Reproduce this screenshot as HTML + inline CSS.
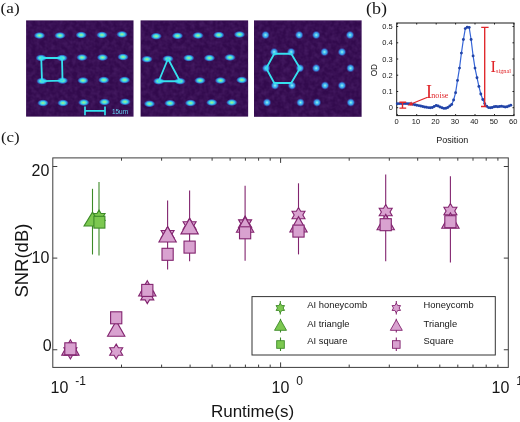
<!DOCTYPE html>
<html><head><meta charset="utf-8"><title>Figure</title>
<style>
html,body{margin:0;padding:0;background:#fff;}
body{width:520px;height:422px;overflow:hidden;}
svg{display:block}
.sans{font-family:"Liberation Sans",Arial,sans-serif;fill:#151515}
.serif{font-family:"Liberation Serif","Times New Roman",serif;fill:#151515}
.red{font-family:"Liberation Serif","Times New Roman",serif;fill:#e0262a}
</style></head><body>
<svg width="520" height="422" viewBox="0 0 520 422">
<defs>
<radialGradient id="sp">
<stop offset="0" stop-color="#a8f08a"/>
<stop offset="0.25" stop-color="#6fe8b8"/>
<stop offset="0.48" stop-color="#36cdea"/>
<stop offset="0.72" stop-color="#2f86e0" stop-opacity="0.8"/>
<stop offset="1" stop-color="#3a3aa8" stop-opacity="0"/>
</radialGradient>
<radialGradient id="sp3">
<stop offset="0" stop-color="#a8f0e8"/>
<stop offset="0.3" stop-color="#4cc8f2"/>
<stop offset="0.6" stop-color="#3596ee" stop-opacity="0.9"/>
<stop offset="1" stop-color="#3a3aa8" stop-opacity="0"/>
</radialGradient>
<filter id="bl" x="-10%" y="-10%" width="120%" height="120%"><feGaussianBlur stdDeviation="0.5"/></filter>
<filter id="noise" x="0" y="0" width="100%" height="100%">
<feTurbulence type="fractalNoise" baseFrequency="0.22" numOctaves="2" seed="3"/>
<feColorMatrix type="matrix" values="0 0 0 0 0.32  0 0 0 0 0.14  0 0 0 0 0.52  1.0 0 0 0 -0.3"/>
</filter>
</defs>
<rect width="520" height="422" fill="#fff"/>

<text class="serif" x="0.6" y="12.6" font-size="15.3" textLength="19" lengthAdjust="spacingAndGlyphs">(a)</text>
<rect x="26.1" y="20.4" width="107.4" height="96.2" fill="#320a4d"/>
<rect x="26.1" y="20.4" width="107.4" height="96.2" filter="url(#noise)" opacity="0.3"/>
<rect x="140.6" y="20.4" width="107.5" height="96.2" fill="#320a4d"/>
<rect x="140.6" y="20.4" width="107.5" height="96.2" filter="url(#noise)" opacity="0.3"/>
<rect x="254" y="20.4" width="107.6" height="96.4" fill="#320a4d"/>
<rect x="254" y="20.4" width="107.6" height="96.4" filter="url(#noise)" opacity="0.3"/>
<g filter="url(#bl)">
<ellipse cx="39.5" cy="35.5" rx="5.9" ry="3.7" fill="url(#sp)"/>
<ellipse cx="60.0" cy="35.5" rx="5.9" ry="3.7" fill="url(#sp)"/>
<ellipse cx="81.2" cy="35.0" rx="5.9" ry="3.7" fill="url(#sp)"/>
<ellipse cx="102.0" cy="35.0" rx="5.9" ry="3.7" fill="url(#sp)"/>
<ellipse cx="122.0" cy="34.4" rx="5.9" ry="3.7" fill="url(#sp)"/>
<ellipse cx="41.2" cy="58.0" rx="5.9" ry="3.7" fill="url(#sp)"/>
<ellipse cx="62.0" cy="58.0" rx="5.9" ry="3.7" fill="url(#sp)"/>
<ellipse cx="82.0" cy="57.5" rx="5.9" ry="3.7" fill="url(#sp)"/>
<ellipse cx="102.5" cy="57.5" rx="5.9" ry="3.7" fill="url(#sp)"/>
<ellipse cx="123.0" cy="57.0" rx="5.9" ry="3.7" fill="url(#sp)"/>
<ellipse cx="42.0" cy="81.1" rx="5.9" ry="3.7" fill="url(#sp)"/>
<ellipse cx="62.5" cy="80.6" rx="5.9" ry="3.7" fill="url(#sp)"/>
<ellipse cx="83.0" cy="80.5" rx="5.9" ry="3.7" fill="url(#sp)"/>
<ellipse cx="103.8" cy="80.0" rx="5.9" ry="3.7" fill="url(#sp)"/>
<ellipse cx="124.5" cy="80.0" rx="5.9" ry="3.7" fill="url(#sp)"/>
<ellipse cx="43.0" cy="103.0" rx="5.9" ry="3.7" fill="url(#sp)"/>
<ellipse cx="63.0" cy="103.0" rx="5.9" ry="3.7" fill="url(#sp)"/>
<ellipse cx="83.8" cy="102.5" rx="5.9" ry="3.7" fill="url(#sp)"/>
<ellipse cx="104.5" cy="102.0" rx="5.9" ry="3.7" fill="url(#sp)"/>
<ellipse cx="125.0" cy="101.8" rx="5.9" ry="3.7" fill="url(#sp)"/>
<ellipse cx="156.2" cy="36.2" rx="5.9" ry="3.7" fill="url(#sp)"/>
<ellipse cx="177.5" cy="35.8" rx="5.9" ry="3.7" fill="url(#sp)"/>
<ellipse cx="198.0" cy="35.5" rx="5.9" ry="3.7" fill="url(#sp)"/>
<ellipse cx="218.8" cy="35.0" rx="5.9" ry="3.7" fill="url(#sp)"/>
<ellipse cx="239.5" cy="34.5" rx="5.9" ry="3.7" fill="url(#sp)"/>
<ellipse cx="147.0" cy="59.2" rx="5.9" ry="3.7" fill="url(#sp)"/>
<ellipse cx="168.0" cy="58.8" rx="5.9" ry="3.7" fill="url(#sp)"/>
<ellipse cx="188.8" cy="58.0" rx="5.9" ry="3.7" fill="url(#sp)"/>
<ellipse cx="209.5" cy="58.0" rx="5.9" ry="3.7" fill="url(#sp)"/>
<ellipse cx="230.0" cy="57.5" rx="5.9" ry="3.7" fill="url(#sp)"/>
<ellipse cx="158.8" cy="81.2" rx="5.9" ry="3.7" fill="url(#sp)"/>
<ellipse cx="180.0" cy="81.2" rx="5.9" ry="3.7" fill="url(#sp)"/>
<ellipse cx="200.0" cy="80.5" rx="5.9" ry="3.7" fill="url(#sp)"/>
<ellipse cx="220.5" cy="80.5" rx="5.9" ry="3.7" fill="url(#sp)"/>
<ellipse cx="241.8" cy="80.0" rx="5.9" ry="3.7" fill="url(#sp)"/>
<ellipse cx="149.5" cy="103.8" rx="5.9" ry="3.7" fill="url(#sp)"/>
<ellipse cx="170.0" cy="103.2" rx="5.9" ry="3.7" fill="url(#sp)"/>
<ellipse cx="190.5" cy="103.0" rx="5.9" ry="3.7" fill="url(#sp)"/>
<ellipse cx="211.8" cy="102.5" rx="5.9" ry="3.7" fill="url(#sp)"/>
<ellipse cx="231.8" cy="102.5" rx="5.9" ry="3.7" fill="url(#sp)"/>
<ellipse cx="265.5" cy="35.0" rx="4.4" ry="4.4" fill="url(#sp3)"/>
<ellipse cx="299.2" cy="35.0" rx="4.4" ry="4.4" fill="url(#sp3)"/>
<ellipse cx="316.2" cy="35.0" rx="4.4" ry="4.4" fill="url(#sp3)"/>
<ellipse cx="350.0" cy="35.0" rx="4.4" ry="4.4" fill="url(#sp3)"/>
<ellipse cx="274.2" cy="52.0" rx="4.4" ry="4.4" fill="url(#sp3)"/>
<ellipse cx="291.2" cy="52.0" rx="4.4" ry="4.4" fill="url(#sp3)"/>
<ellipse cx="324.5" cy="52.0" rx="4.4" ry="4.4" fill="url(#sp3)"/>
<ellipse cx="342.0" cy="52.0" rx="4.4" ry="4.4" fill="url(#sp3)"/>
<ellipse cx="266.2" cy="68.2" rx="4.4" ry="4.4" fill="url(#sp3)"/>
<ellipse cx="300.0" cy="68.2" rx="4.4" ry="4.4" fill="url(#sp3)"/>
<ellipse cx="316.2" cy="68.2" rx="4.4" ry="4.4" fill="url(#sp3)"/>
<ellipse cx="350.5" cy="68.2" rx="4.4" ry="4.4" fill="url(#sp3)"/>
<ellipse cx="275.0" cy="85.5" rx="4.4" ry="4.4" fill="url(#sp3)"/>
<ellipse cx="292.0" cy="85.5" rx="4.4" ry="4.4" fill="url(#sp3)"/>
<ellipse cx="325.0" cy="85.5" rx="4.4" ry="4.4" fill="url(#sp3)"/>
<ellipse cx="342.0" cy="85.5" rx="4.4" ry="4.4" fill="url(#sp3)"/>
<ellipse cx="267.0" cy="102.5" rx="4.4" ry="4.4" fill="url(#sp3)"/>
<ellipse cx="300.5" cy="102.5" rx="4.4" ry="4.4" fill="url(#sp3)"/>
<ellipse cx="317.0" cy="102.5" rx="4.4" ry="4.4" fill="url(#sp3)"/>
<ellipse cx="350.8" cy="102.5" rx="4.4" ry="4.4" fill="url(#sp3)"/>
</g>
<path d="M41.25 58 L62 58 L62.5 80.6 L42 81.1 Z" fill="none" stroke="#35e0ee" stroke-width="1.8" stroke-linejoin="round"/>
<path d="M168 58.75 L158.75 81.25 L180 81.25 Z" fill="none" stroke="#35e0ee" stroke-width="1.8" stroke-linejoin="round"/>
<path d="M274.25 53.75 L291.25 53.75 L300 68.25 L291.25 83 L274.25 83 L266.25 68.25 Z" fill="none" stroke="#35e0ee" stroke-width="1.8" stroke-linejoin="round"/>
<path d="M85 110.8 H105 M85 106.5 V115.3 M105 106.5 V115.3" fill="none" stroke="#35e0ee" stroke-width="1.7"/>
<text x="111.9" y="114" font-size="6.8" textLength="16.2" lengthAdjust="spacingAndGlyphs" font-family="Liberation Sans,Arial,sans-serif" fill="#66d2f2">15um</text>
<text class="serif" x="366" y="13.9" font-size="16" textLength="21" lengthAdjust="spacingAndGlyphs">(b)</text>
<rect x="396.7" y="23" width="117.3" height="92.6" fill="#fff" stroke="#1a1a1a" stroke-width="1"/>
<text class="sans" x="396.6" y="124.2" font-size="7.5" text-anchor="middle">0</text>
<text class="sans" x="416.0" y="124.2" font-size="7.5" text-anchor="middle">10</text>
<text class="sans" x="435.5" y="124.2" font-size="7.5" text-anchor="middle">20</text>
<text class="sans" x="454.9" y="124.2" font-size="7.5" text-anchor="middle">30</text>
<text class="sans" x="474.3" y="124.2" font-size="7.5" text-anchor="middle">40</text>
<text class="sans" x="493.8" y="124.2" font-size="7.5" text-anchor="middle">50</text>
<text class="sans" x="513.2" y="124.2" font-size="7.5" text-anchor="middle">60</text>
<text class="sans" x="392.8" y="110.3" font-size="7.5" text-anchor="end">0</text>
<text class="sans" x="392.8" y="94.1" font-size="7.5" text-anchor="end">0.1</text>
<text class="sans" x="392.8" y="77.8" font-size="7.5" text-anchor="end">0.2</text>
<text class="sans" x="392.8" y="61.6" font-size="7.5" text-anchor="end">0.3</text>
<text class="sans" x="392.8" y="45.4" font-size="7.5" text-anchor="end">0.4</text>
<text class="sans" x="392.8" y="29.1" font-size="7.5" text-anchor="end">0.5</text>
<path d="M397.3 115.6 v-1.5 M397.3 23 v1.5 M416.7 115.6 v-1.5 M416.7 23 v1.5 M436.2 115.6 v-1.5 M436.2 23 v1.5 M455.6 115.6 v-1.5 M455.6 23 v1.5 M475.0 115.6 v-1.5 M475.0 23 v1.5 M494.5 115.6 v-1.5 M494.5 23 v1.5 M513.9 115.6 v-1.5 M513.9 23 v1.5 M396.7 107.7 h1.5 M514 107.7 h-1.5 M396.7 91.5 h1.5 M514 91.5 h-1.5 M396.7 75.2 h1.5 M514 75.2 h-1.5 M396.7 59.0 h1.5 M514 59.0 h-1.5 M396.7 42.8 h1.5 M514 42.8 h-1.5 M396.7 26.5 h1.5 M514 26.5 h-1.5" stroke="#1a1a1a" stroke-width="1" fill="none"/>
<text class="sans" font-size="8.2" text-anchor="middle" transform="translate(376.9 70.2) rotate(-90)">OD</text>
<text class="sans" font-size="9" text-anchor="middle" x="452.2" y="142.6">Position</text>
<polyline points="397.3,103.8 399.2,103.6 401.2,103.5 403.1,103.6 405.1,103.5 407.0,103.6 409.0,103.8 410.9,104.0 412.8,104.3 414.8,104.8 416.7,105.2 418.7,105.6 420.6,106.0 422.6,106.5 424.5,107.0 426.4,107.3 428.4,107.6 430.3,107.7 432.3,107.5 434.2,106.5 436.2,105.5 438.1,106.0 440.0,107.0 442.0,107.8 443.9,108.4 445.9,108.2 447.8,107.5 449.8,106.0 451.7,104.5 453.6,100.0 455.6,92.7 457.5,80.4 459.5,68.1 461.4,53.1 463.4,39.5 465.3,28.6 467.2,27.3 469.2,27.5 471.1,39.5 473.1,55.9 475.0,68.1 477.0,77.7 478.9,86.4 480.8,94.0 482.8,99.5 484.7,103.6 486.7,106.3 488.5,107.6 490.4,107.8 492.2,107.5 494.1,106.8 495.9,106.5 497.8,106.7 499.7,106.5 501.5,106.3 503.4,106.6 505.2,107.0 507.1,106.8 508.9,106.0 510.8,105.2" fill="none" stroke="#3565d8" stroke-width="1.2" stroke-linejoin="round"/>
<circle cx="397.3" cy="103.8" r="1.45" fill="#2244a8"/>
<circle cx="399.2" cy="103.6" r="1.45" fill="#2244a8"/>
<circle cx="401.2" cy="103.5" r="1.45" fill="#2244a8"/>
<circle cx="403.1" cy="103.6" r="1.45" fill="#2244a8"/>
<circle cx="405.1" cy="103.5" r="1.45" fill="#2244a8"/>
<circle cx="407.0" cy="103.6" r="1.45" fill="#2244a8"/>
<circle cx="409.0" cy="103.8" r="1.45" fill="#2244a8"/>
<circle cx="410.9" cy="104.0" r="1.45" fill="#2244a8"/>
<circle cx="412.8" cy="104.3" r="1.45" fill="#2244a8"/>
<circle cx="414.8" cy="104.8" r="1.45" fill="#2244a8"/>
<circle cx="416.7" cy="105.2" r="1.45" fill="#2244a8"/>
<circle cx="418.7" cy="105.6" r="1.45" fill="#2244a8"/>
<circle cx="420.6" cy="106.0" r="1.45" fill="#2244a8"/>
<circle cx="422.6" cy="106.5" r="1.45" fill="#2244a8"/>
<circle cx="424.5" cy="107.0" r="1.45" fill="#2244a8"/>
<circle cx="426.4" cy="107.3" r="1.45" fill="#2244a8"/>
<circle cx="428.4" cy="107.6" r="1.45" fill="#2244a8"/>
<circle cx="430.3" cy="107.7" r="1.45" fill="#2244a8"/>
<circle cx="432.3" cy="107.5" r="1.45" fill="#2244a8"/>
<circle cx="434.2" cy="106.5" r="1.45" fill="#2244a8"/>
<circle cx="436.2" cy="105.5" r="1.45" fill="#2244a8"/>
<circle cx="438.1" cy="106.0" r="1.45" fill="#2244a8"/>
<circle cx="440.0" cy="107.0" r="1.45" fill="#2244a8"/>
<circle cx="442.0" cy="107.8" r="1.45" fill="#2244a8"/>
<circle cx="443.9" cy="108.4" r="1.45" fill="#2244a8"/>
<circle cx="445.9" cy="108.2" r="1.45" fill="#2244a8"/>
<circle cx="447.8" cy="107.5" r="1.45" fill="#2244a8"/>
<circle cx="449.8" cy="106.0" r="1.45" fill="#2244a8"/>
<circle cx="451.7" cy="104.5" r="1.45" fill="#2244a8"/>
<circle cx="453.6" cy="100.0" r="1.45" fill="#2244a8"/>
<circle cx="455.6" cy="92.7" r="1.45" fill="#2244a8"/>
<circle cx="457.5" cy="80.4" r="1.45" fill="#2244a8"/>
<circle cx="459.5" cy="68.1" r="1.45" fill="#2244a8"/>
<circle cx="461.4" cy="53.1" r="1.45" fill="#2244a8"/>
<circle cx="463.4" cy="39.5" r="1.45" fill="#2244a8"/>
<circle cx="465.3" cy="28.6" r="1.45" fill="#2244a8"/>
<circle cx="467.2" cy="27.3" r="1.45" fill="#2244a8"/>
<circle cx="469.2" cy="27.5" r="1.45" fill="#2244a8"/>
<circle cx="471.1" cy="39.5" r="1.45" fill="#2244a8"/>
<circle cx="473.1" cy="55.9" r="1.45" fill="#2244a8"/>
<circle cx="475.0" cy="68.1" r="1.45" fill="#2244a8"/>
<circle cx="477.0" cy="77.7" r="1.45" fill="#2244a8"/>
<circle cx="478.9" cy="86.4" r="1.45" fill="#2244a8"/>
<circle cx="480.8" cy="94.0" r="1.45" fill="#2244a8"/>
<circle cx="482.8" cy="99.5" r="1.45" fill="#2244a8"/>
<circle cx="484.7" cy="103.6" r="1.45" fill="#2244a8"/>
<circle cx="486.7" cy="106.3" r="1.45" fill="#2244a8"/>
<circle cx="488.5" cy="107.6" r="1.45" fill="#2244a8"/>
<circle cx="490.4" cy="107.8" r="1.45" fill="#2244a8"/>
<circle cx="492.2" cy="107.5" r="1.45" fill="#2244a8"/>
<circle cx="494.1" cy="106.8" r="1.45" fill="#2244a8"/>
<circle cx="495.9" cy="106.5" r="1.45" fill="#2244a8"/>
<circle cx="497.8" cy="106.7" r="1.45" fill="#2244a8"/>
<circle cx="499.7" cy="106.5" r="1.45" fill="#2244a8"/>
<circle cx="501.5" cy="106.3" r="1.45" fill="#2244a8"/>
<circle cx="503.4" cy="106.6" r="1.45" fill="#2244a8"/>
<circle cx="505.2" cy="107.0" r="1.45" fill="#2244a8"/>
<circle cx="507.1" cy="106.8" r="1.45" fill="#2244a8"/>
<circle cx="508.9" cy="106.0" r="1.45" fill="#2244a8"/>
<circle cx="510.8" cy="105.2" r="1.45" fill="#2244a8"/>
<path d="M402.5 102.3 V108.1 M399.4 102.3 H406.2 M399.4 108.1 H406.2" stroke="#e0262a" stroke-width="1.4" fill="none"/>
<path d="M484.7 27.3 V106.5 M481.2 27.3 H488.6 M481 106.5 H486.3" stroke="#e0262a" stroke-width="1.35" fill="none"/>
<path d="M427.5 97.3 L411 104" stroke="#e0262a" stroke-width="1.2" fill="none"/>
<path d="M407.5 105.6 L411.3 101.6 L413 105.4 Z" fill="#e0262a"/>
<text class="red" x="426.1" y="97.8" font-size="18">I<tspan font-size="8.1" dx="-0.8" dy="0.2">noise</tspan></text>
<text class="red" x="490.6" y="72.2" font-size="16.5">I<tspan font-size="6.2" dy="0.3">signal</tspan></text>
<text class="serif" x="0.9" y="142.2" font-size="15.3" textLength="18.7" lengthAdjust="spacingAndGlyphs">(c)</text>
<rect x="52.8" y="157.9" width="455.5" height="209.5" fill="#fff" stroke="#3c3c3c" stroke-width="1"/>
<path d="M121.5 367.4 v-2.8 M121.5 157.9 v2.8 M161.6 367.4 v-2.8 M161.6 157.9 v2.8 M190.1 367.4 v-2.8 M190.1 157.9 v2.8 M212.1 367.4 v-2.8 M212.1 157.9 v2.8 M230.1 367.4 v-2.8 M230.1 157.9 v2.8 M245.4 367.4 v-2.8 M245.4 157.9 v2.8 M258.6 367.4 v-2.8 M258.6 157.9 v2.8 M270.2 367.4 v-2.8 M270.2 157.9 v2.8 M280.6 367.4 v-5 M280.6 157.9 v5 M349.2 367.4 v-2.8 M349.2 157.9 v2.8 M389.3 367.4 v-2.8 M389.3 157.9 v2.8 M417.7 367.4 v-2.8 M417.7 157.9 v2.8 M439.8 367.4 v-2.8 M439.8 157.9 v2.8 M457.8 367.4 v-2.8 M457.8 157.9 v2.8 M473.0 367.4 v-2.8 M473.0 157.9 v2.8 M486.2 367.4 v-2.8 M486.2 157.9 v2.8 M497.9 367.4 v-2.8 M497.9 157.9 v2.8 M52.8 349.75 h4.5 M508.3 349.75 h-4.5 M52.8 258.1 h4.5 M508.3 258.1 h-4.5 M52.8 166.5 h4.5 M508.3 166.5 h-4.5" stroke="#3c3c3c" stroke-width="1" fill="none"/>
<text class="sans" x="49.3" y="175.6" font-size="16" text-anchor="end">20</text>
<text class="sans" x="49.3" y="263.1" font-size="16" text-anchor="end">10</text>
<text class="sans" x="51.6" y="351.3" font-size="16" text-anchor="end">0</text>
<text class="sans" font-size="18.5" text-anchor="middle" transform="translate(28.1 260.6) rotate(-90)">SNR(dB)</text>
<text class="sans" font-size="17" text-anchor="middle" x="252.5" y="417">Runtime(s)</text>
<text class="sans" x="50.5" y="393" font-size="16">10<tspan font-size="12" dx="7" dy="-8.3">-1</tspan></text>
<text class="sans" x="271.5" y="393" font-size="16">10<tspan font-size="12" dx="7" dy="-8.3">0</tspan></text>
<text class="sans" x="491.5" y="393" font-size="16">10<tspan font-size="12" dx="7" dy="-8.3">1</tspan></text>
<path d="M92.5 188.8 V254.5" stroke="#3d8a28" stroke-width="1.1" fill="none"/>
<path d="M99 182 V255.5" stroke="#3d8a28" stroke-width="1.1" fill="none"/>
<polygon points="99.00,210.00 101.02,213.50 105.06,213.50 103.04,217.00 105.06,220.50 101.02,220.50 99.00,224.00 96.98,220.50 92.94,220.50 94.96,217.00 92.94,213.50 96.98,213.50" fill="#7cc850" stroke="#3d8a28" stroke-width="1.1" stroke-linejoin="miter"/>
<polygon points="92.50,212.10 100.96,226.05 84.04,226.05" fill="#7cc850" stroke="#3d8a28" stroke-width="1.1" stroke-linejoin="miter"/>
<rect x="93.90" y="216.30" width="11.0" height="11.8" fill="#7cc850" stroke="#3d8a28" stroke-width="1.1"/>
<polygon points="70.40,344.00 72.57,347.75 76.90,347.75 74.73,351.50 76.90,355.25 72.57,355.25 70.40,359.00 68.23,355.25 63.90,355.25 66.07,351.50 63.90,347.75 68.23,347.75" fill="#d9a2d0" stroke="#82246f" stroke-width="1.1" stroke-linejoin="miter"/>
<polygon points="70.40,339.83 79.08,355.16 61.72,355.16" fill="#d9a2d0" stroke="#82246f" stroke-width="1.1" stroke-linejoin="miter"/>
<rect x="64.80" y="342.80" width="11.2" height="12.0" fill="#d9a2d0" stroke="#82246f" stroke-width="1.1"/>
<polygon points="116.20,344.00 118.37,347.75 122.70,347.75 120.53,351.50 122.70,355.25 118.37,355.25 116.20,359.00 114.03,355.25 109.70,355.25 111.87,351.50 109.70,347.75 114.03,347.75" fill="#d9a2d0" stroke="#82246f" stroke-width="1.1" stroke-linejoin="miter"/>
<polygon points="116.20,320.88 124.88,336.21 107.52,336.21" fill="#d9a2d0" stroke="#82246f" stroke-width="1.1" stroke-linejoin="miter"/>
<rect x="110.60" y="311.80" width="11.2" height="12.0" fill="#d9a2d0" stroke="#82246f" stroke-width="1.1"/>
<polygon points="147.30,288.60 149.47,292.35 153.80,292.35 151.63,296.10 153.80,299.85 149.47,299.85 147.30,303.60 145.13,299.85 140.80,299.85 142.97,296.10 140.80,292.35 145.13,292.35" fill="#d9a2d0" stroke="#82246f" stroke-width="1.1" stroke-linejoin="miter"/>
<polygon points="147.30,280.73 155.98,296.06 138.62,296.06" fill="#d9a2d0" stroke="#82246f" stroke-width="1.1" stroke-linejoin="miter"/>
<rect x="141.70" y="284.40" width="11.2" height="12.0" fill="#d9a2d0" stroke="#82246f" stroke-width="1.1"/>
<path d="M167.6 200.6 V269.4" stroke="#82246f" stroke-width="1.1" fill="none"/>
<polygon points="167.60,226.80 169.77,230.55 174.10,230.55 171.93,234.30 174.10,238.05 169.77,238.05 167.60,241.80 165.43,238.05 161.10,238.05 163.27,234.30 161.10,230.55 165.43,230.55" fill="#d9a2d0" stroke="#82246f" stroke-width="1.1" stroke-linejoin="miter"/>
<polygon points="167.60,226.63 176.28,241.96 158.92,241.96" fill="#d9a2d0" stroke="#82246f" stroke-width="1.1" stroke-linejoin="miter"/>
<rect x="162.00" y="248.30" width="11.2" height="12.0" fill="#d9a2d0" stroke="#82246f" stroke-width="1.1"/>
<path d="M189.6 190.6 V261.3" stroke="#82246f" stroke-width="1.1" fill="none"/>
<polygon points="189.60,218.00 191.77,221.75 196.10,221.75 193.93,225.50 196.10,229.25 191.77,229.25 189.60,233.00 187.43,229.25 183.10,229.25 185.27,225.50 183.10,221.75 187.43,221.75" fill="#d9a2d0" stroke="#82246f" stroke-width="1.1" stroke-linejoin="miter"/>
<polygon points="189.60,218.53 198.28,233.86 180.92,233.86" fill="#d9a2d0" stroke="#82246f" stroke-width="1.1" stroke-linejoin="miter"/>
<rect x="184.00" y="241.10" width="11.2" height="12.0" fill="#d9a2d0" stroke="#82246f" stroke-width="1.1"/>
<path d="M245.1 185.7 V260.8" stroke="#82246f" stroke-width="1.1" fill="none"/>
<polygon points="245.10,216.10 247.27,219.85 251.60,219.85 249.43,223.60 251.60,227.35 247.27,227.35 245.10,231.10 242.93,227.35 238.60,227.35 240.77,223.60 238.60,219.85 242.93,219.85" fill="#d9a2d0" stroke="#82246f" stroke-width="1.1" stroke-linejoin="miter"/>
<polygon points="245.10,216.88 253.78,232.21 236.42,232.21" fill="#d9a2d0" stroke="#82246f" stroke-width="1.1" stroke-linejoin="miter"/>
<rect x="239.50" y="226.80" width="11.2" height="12.0" fill="#d9a2d0" stroke="#82246f" stroke-width="1.1"/>
<path d="M298.5 183.3 V254.4" stroke="#82246f" stroke-width="1.1" fill="none"/>
<polygon points="298.50,207.50 300.67,211.25 305.00,211.25 302.83,215.00 305.00,218.75 300.67,218.75 298.50,222.50 296.33,218.75 292.00,218.75 294.17,215.00 292.00,211.25 296.33,211.25" fill="#d9a2d0" stroke="#82246f" stroke-width="1.1" stroke-linejoin="miter"/>
<polygon points="298.50,216.63 307.18,231.96 289.82,231.96" fill="#d9a2d0" stroke="#82246f" stroke-width="1.1" stroke-linejoin="miter"/>
<rect x="292.90" y="225.10" width="11.2" height="12.0" fill="#d9a2d0" stroke="#82246f" stroke-width="1.1"/>
<path d="M385.7 174.5 V261.3" stroke="#82246f" stroke-width="1.1" fill="none"/>
<polygon points="385.70,204.50 387.87,208.25 392.20,208.25 390.03,212.00 392.20,215.75 387.87,215.75 385.70,219.50 383.53,215.75 379.20,215.75 381.37,212.00 379.20,208.25 383.53,208.25" fill="#d9a2d0" stroke="#82246f" stroke-width="1.1" stroke-linejoin="miter"/>
<polygon points="385.70,214.38 394.38,229.71 377.02,229.71" fill="#d9a2d0" stroke="#82246f" stroke-width="1.1" stroke-linejoin="miter"/>
<rect x="380.10" y="218.70" width="11.2" height="12.0" fill="#d9a2d0" stroke="#82246f" stroke-width="1.1"/>
<path d="M450.4 176.3 V262.5" stroke="#82246f" stroke-width="1.1" fill="none"/>
<polygon points="450.40,203.50 452.57,207.25 456.90,207.25 454.73,211.00 456.90,214.75 452.57,214.75 450.40,218.50 448.23,214.75 443.90,214.75 446.07,211.00 443.90,207.25 448.23,207.25" fill="#d9a2d0" stroke="#82246f" stroke-width="1.1" stroke-linejoin="miter"/>
<polygon points="450.40,212.88 459.08,228.21 441.72,228.21" fill="#d9a2d0" stroke="#82246f" stroke-width="1.1" stroke-linejoin="miter"/>
<rect x="444.80" y="215.70" width="11.2" height="12.0" fill="#d9a2d0" stroke="#82246f" stroke-width="1.1"/>
<rect x="252" y="296.6" width="243.3" height="58.4" fill="#fff" stroke="#333" stroke-width="1"/>
<path d="M280.3 301 V314.5" stroke="#3d8a28" stroke-width="1.1" fill="none"/>
<polygon points="280.30,303.10 281.71,305.55 284.54,305.55 283.13,308.00 284.54,310.45 281.71,310.45 280.30,312.90 278.89,310.45 276.06,310.45 277.47,308.00 276.06,305.55 278.89,305.55" fill="#7cc850" stroke="#3d8a28" stroke-width="0.9" stroke-linejoin="miter"/>
<path d="M280.5 318.8 V332.5" stroke="#3d8a28" stroke-width="1.1" fill="none"/>
<polygon points="280.50,319.74 286.50,330.33 274.50,330.33" fill="#7cc850" stroke="#3d8a28" stroke-width="0.9" stroke-linejoin="miter"/>
<path d="M280.5 337.5 V351" stroke="#3d8a28" stroke-width="1.1" fill="none"/>
<rect x="276.70" y="340.70" width="7.6" height="7.6" fill="#7cc850" stroke="#3d8a28" stroke-width="0.9"/>
<path d="M396.3 301 V314.5" stroke="#82246f" stroke-width="1.1" fill="none"/>
<polygon points="396.30,303.10 397.71,305.55 400.54,305.55 399.13,308.00 400.54,310.45 397.71,310.45 396.30,312.90 394.89,310.45 392.06,310.45 393.47,308.00 392.06,305.55 394.89,305.55" fill="#d9a2d0" stroke="#82246f" stroke-width="0.9" stroke-linejoin="miter"/>
<path d="M396.3 318.8 V332.5" stroke="#82246f" stroke-width="1.1" fill="none"/>
<polygon points="396.30,319.74 402.30,330.33 390.30,330.33" fill="#d9a2d0" stroke="#82246f" stroke-width="0.9" stroke-linejoin="miter"/>
<path d="M396.3 337.5 V351" stroke="#82246f" stroke-width="1.1" fill="none"/>
<rect x="392.50" y="340.70" width="7.6" height="7.6" fill="#d9a2d0" stroke="#82246f" stroke-width="0.9"/>
<text class="sans" x="307.3" y="308.2" font-size="9.4">AI honeycomb</text>
<text class="sans" x="307.3" y="326.9" font-size="9.4">AI triangle</text>
<text class="sans" x="307.3" y="344.4" font-size="9.4">AI square</text>
<text class="sans" x="423.6" y="308.2" font-size="9.4">Honeycomb</text>
<text class="sans" x="423.6" y="326.8" font-size="9.4">Triangle</text>
<text class="sans" x="423.6" y="344.4" font-size="9.4">Square</text>
</svg></body></html>
